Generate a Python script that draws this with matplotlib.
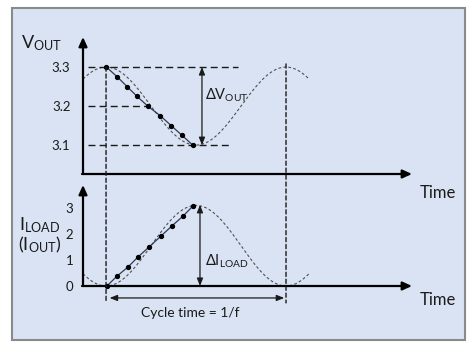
import matplotlib
matplotlib.use('Agg')
import matplotlib.pyplot as plt
import numpy as np
from matplotlib.patches import Rectangle, ConnectionPatch

plt.rcParams['font.family'] = ['Lato', 'DejaVu Sans']
plt.rcParams['mathtext.fontset'] = 'custom'
plt.rcParams['mathtext.rm'] = 'Lato'

# ideal waveform (dashed sine)
period = 1.0
t_peak = 0.128
t_end = 1.256
v_mid, v_amp = 3.2, 0.1
i_mid, i_amp = 1.55, 1.55

# dotted ramp (one point per step)
v_dot_t = [0.13, 0.19, 0.245, 0.30, 0.36, 0.43, 0.49, 0.55, 0.61]
v_dot = [3.3, 3.275, 3.25, 3.225, 3.2, 3.175, 3.15, 3.125, 3.1]
i_dot_t = [0.133, 0.189, 0.25, 0.306, 0.367, 0.433, 0.494, 0.556, 0.611]
i_dot = [0.0, 0.38, 0.73, 1.12, 1.5, 1.92, 2.31, 2.69, 3.08]

v_ticks = [3.1, 3.2, 3.3]
i_ticks = [0, 1, 2, 3]

W, H = 474, 351
bg = '#dae3f3'
ink = '#1a1a1a'


def frac(x0, y0, x1, y1):
    # pixel box -> figure fraction [left, bottom, width, height]
    return [x0 / W, 1 - y1 / H, (x1 - x0) / W, (y1 - y0) / H]


fig = plt.figure(figsize=(4.74, 3.51), dpi=100, facecolor='white')
fig.patches.append(Rectangle((12 / W, 1 - 340 / H), 453 / W, 332 / H,
                             transform=fig.transFigure, facecolor=bg,
                             edgecolor='#8a8a8a', lw=1.5, zorder=-5))

ax_v = fig.add_axes(frac(83, 37, 412, 174))
ax_i = fig.add_axes(frac(83, 185, 412, 286))
ax_v.set_xlim(0, 1.828)
ax_v.set_ylim(3.026, 3.377)
ax_i.set_xlim(0, 1.828)
ax_i.set_ylim(0, 3.885)

for ax in (ax_v, ax_i):
    ax.patch.set_visible(False)
    for s in ax.spines.values():
        s.set_visible(False)
    ax.set_xticks([])
    ax.tick_params(axis='y', length=0, pad=9, labelsize=9.5, labelcolor=ink)
    arrow = dict(arrowstyle='-|>,head_length=0.55,head_width=0.25',
                 lw=1.6, color='black', shrinkA=0, shrinkB=0)
    ax.annotate('', xy=(0, 1), xytext=(0, 0), xycoords='axes fraction',
                arrowprops=arrow)
    ax.annotate('', xy=(1, 0), xytext=(-0.003, 0), xycoords='axes fraction',
                arrowprops=arrow)
    ax.text(1.025, -0.14, 'Time', transform=ax.transAxes, fontsize=12,
            color=ink, ha='left', va='center')

ax_v.set_yticks(v_ticks)
ax_v.set_yticklabels([f'{v:.1f}' for v in v_ticks])
ax_i.set_yticks(i_ticks)
ax_i.set_yticklabels([str(v) for v in i_ticks])
ax_i.tick_params(axis='y', pad=7)

t = np.linspace(0, t_end, 300)
v_wave = v_mid + v_amp * np.cos(2 * np.pi * (t - t_peak) / period)
i_wave = i_mid - i_amp * np.cos(2 * np.pi * (t - t_peak) / period)
wave_style = dict(color='#505050', lw=0.8, ls=(0, (2.5, 2)), clip_on=False)
ax_v.plot(t, v_wave, **wave_style)
ax_i.plot(t, i_wave, **wave_style)

dot_style = dict(color='#2f3b55', lw=0.9, marker='o', ms=2.8,
                 mfc='black', mec='black', clip_on=False, zorder=4)
ax_v.plot(v_dot_t, v_dot, **dot_style)
ax_i.plot(i_dot_t, i_dot, **dot_style)

# level guides
guide = dict(color=ink, lw=1.0, ls=(0, (5, 3)))
ax_v.plot([0.028, 0.861], [3.3, 3.3], **guide)
ax_v.plot([0.028, 0.361], [3.2, 3.2], **guide)
ax_v.plot([0.028, 0.828], [3.1, 3.1], **guide)

# cycle markers spanning both panels
for tx, vtop in [(t_peak, 3.3), (t_peak + period, 3.308)]:
    con = ConnectionPatch(xyA=(tx, vtop), coordsA=ax_v.transData,
                          xyB=(tx, -0.65), coordsB=ax_i.transData,
                          color=ink, lw=1.0, ls=(0, (3, 2)))
    fig.add_artist(con)

dbl = dict(arrowstyle='<|-|>,head_length=0.45,head_width=0.18',
           lw=0.9, color=ink, shrinkA=0, shrinkB=0)
ax_v.annotate('', xy=(0.661, 3.3), xytext=(0.661, 3.1), arrowprops=dbl)
ax_v.text(0.68, 3.228, r'$\mathrm{\Delta V_{OUT}}$', fontsize=10.5,
          color=ink, va='center')
ax_i.annotate('', xy=(0.65, 3.12), xytext=(0.65, 0), arrowprops=dbl)
ax_i.text(0.68, 0.95, r'$\mathrm{\Delta I_{LOAD}}$', fontsize=10.5,
          color=ink, va='center')

ax_i.annotate('', xy=(t_peak + 0.02, -0.46), xytext=(t_peak + period - 0.01, -0.46),
              arrowprops=dbl, annotation_clip=False)
ax_i.text(0.594, -1.04, 'Cycle time = 1/f', fontsize=10, color=ink,
          ha='center', va='center', clip_on=False)

ax_v.text(-0.23, 3.362, r'$\mathrm{V_{OUT}}$', fontsize=13, color=ink,
          ha='center', va='center')
ax_i.text(-0.24, 2.35, r'$\mathrm{I_{LOAD}}$', fontsize=13, color=ink,
          ha='center', va='center')
ax_i.text(-0.24, 1.6, r'$\mathrm{(I_{OUT})}$', fontsize=13, color=ink,
          ha='center', va='center')

fig.savefig('out.png', dpi=100, facecolor='white')
